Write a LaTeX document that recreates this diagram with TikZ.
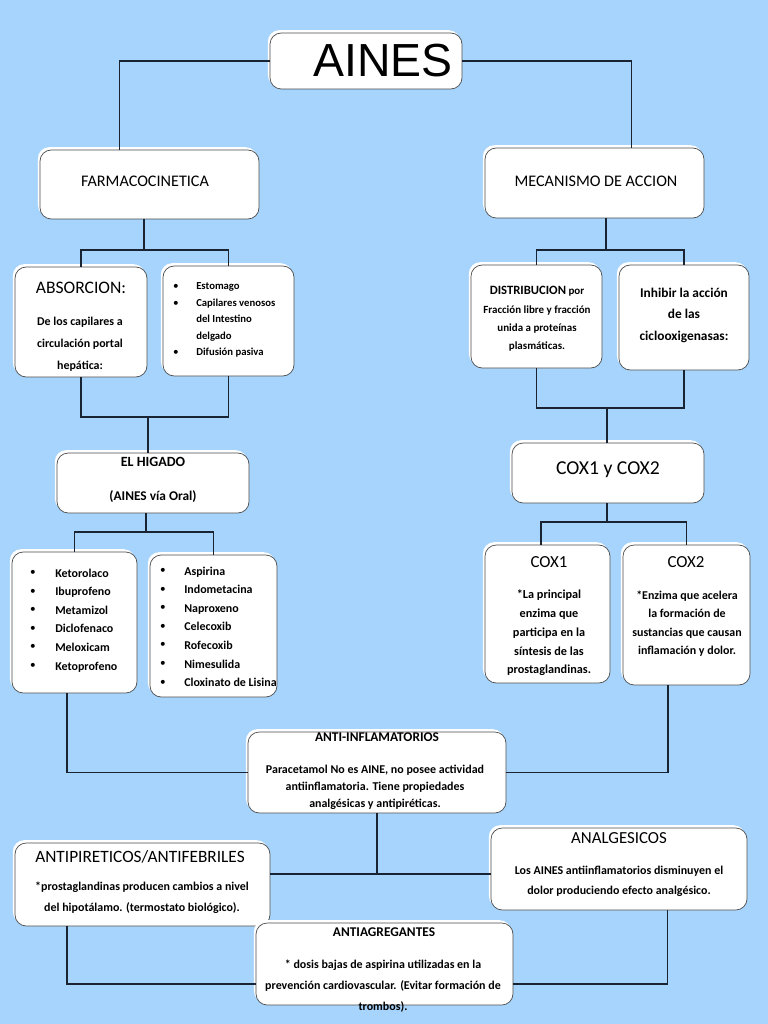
\documentclass[tikz,border=0pt]{standalone}
\usepackage{fontspec}
\setmainfont{Carlito}
\newfontfamily\arial{Liberation Sans}
\usetikzlibrary{fit,shadows}
\definecolor{fondo}{RGB}{166,212,252}
\definecolor{linea}{RGB}{25,35,50}

\begin{document}
\begin{tikzpicture}[x=0.025cm, y=-0.025cm,
  caja/.style={draw=black!70, line width=0.5pt, fill=white, rounded corners=8pt, inner sep=0pt,
    drop shadow={shadow xshift=-1.5pt, shadow yshift=2pt, fill=white, opacity=1}},
  titulo/.style={inner sep=0pt, align=center, font=\fontsize{12}{14}\selectfont},
  negrita/.style={inner sep=0pt, align=center, font=\fontsize{9.5}{12}\selectfont\bfseries},
  cuerpo/.style={inner sep=0pt, align=center, font=\fontsize{8.5}{#1}\selectfont\bfseries},
  item/.style={inner sep=0pt, anchor=west, text height=1.6ex, text depth=0.4ex,
    font=\fontsize{8.5}{10}\selectfont\bfseries},
  bala/.style={inner sep=0pt, font=\fontsize{8}{10}\selectfont},
  enlace/.style={draw=linea, line width=0.9pt}]

\fill[fondo] (0,0) rectangle (768,1024);

% cajas
\node[caja, fit={(270,33) (462,89)}] (aines) {};
\node[caja, fit={(40,150) (259,219)}] (farma) {};
\node[caja, fit={(485,148) (704,218)}] (meca) {};
\node[caja, fit={(15,267) (147,377)}] (abs) {};
\node[caja, fit={(163,266) (294,376)}] (est) {};
\node[caja, fit={(57,453) (249,513)}] (hig) {};
\node[caja, fit={(12,552) (137,693)}] (l1) {};
\node[caja, fit={(150,555) (277,697)}] (l2) {};
\node[caja, fit={(471,265) (602,368)}] (dist) {};
\node[caja, fit={(619,265) (749,370)}] (inh) {};
\node[caja, fit={(512,443) (704,503)}] (cxy) {};
\node[caja, fit={(485,545) (610,683)}] (cx1) {};
\node[caja, fit={(623,545) (750,685)}] (cx2) {};
\node[caja, fit={(248,732) (506,813)}] (anti) {};
\node[caja, fit={(15,843) (270,926)}] (antip) {};
\node[caja, fit={(491,828) (747,910)}] (anal) {};
\node[caja, fit={(256,923) (513,1005)}] (antiag) {};

% textos
\node[inner sep=0pt, font=\arial\fontsize{33}{36}\selectfont] (aines-t) at (383,61) {AINES};
\node[titulo, font=\fontsize{11.5}{14}\selectfont] (farma-t) at (145,181) {FARMACOCINETICA};
\node[titulo, font=\fontsize{11.5}{14}\selectfont] (meca-t) at (596,181) {MECANISMO DE ACCION};

\node[titulo, font=\fontsize{12.5}{14}\selectfont] (abs-t) at (81,288) {ABSORCION:};
\node[cuerpo=15.6, font=\fontsize{8.5}{15.6}\selectfont\bfseries] (abs-c) at (80,344)
  {De los capilares a\\circulación portal\\hepática:};

\node[inner sep=0pt, align=left, anchor=west, font=\fontsize{7.6}{11.7}\selectfont\bfseries] (est-t) at (196,320)
  {Estomago\\Capilares venosos\\del Intestino\\delgado\\Difusión pasiva};
\foreach \y [count=\i] in {287,304,353}
  \node[bala] (be-\i) at (176,\y) {\textbullet};

\node[negrita, font=\fontsize{10}{12}\selectfont\bfseries] (hig-t) at (153,462) {EL HIGADO};
\node[negrita] (hig-c) at (153,497) {(AINES vía Oral)};

\foreach \f [count=\i] in {Ketorolaco,Ibuprofeno,Metamizol,Diclofenaco,Meloxicam,Ketoprofeno}{
  \node[bala] (b1-\i) at (33,554.4+18.6*\i) {\textbullet};
  \node[item] (i1-\i) at (55,554.4+18.6*\i) {\f};
}
\foreach \f [count=\i] in {Aspirina,Indometacina,Naproxeno,Celecoxib,Rofecoxib,Nimesulida,Cloxinato de Lisina}{
  \node[bala] (b2-\i) at (163,552.4+18.6*\i) {\textbullet};
  \node[item] (i2-\i) at (184,552.4+18.6*\i) {\f};
}

\node[cuerpo=13, font=\fontsize{7.8}{13}\selectfont\bfseries] (dist-t) at (537,319)
  {{\fontsize{9}{13}\selectfont DISTRIBUCION} por\\Fracción libre y fracción\\unida a proteínas\\plasmáticas.};
\node[negrita, font=\fontsize{9.5}{15.3}\selectfont\bfseries] (inh-t) at (684,315)
  {Inhibir la acción\\de las\\ciclooxigenasas:};

\node[titulo, font=\fontsize{14}{16}\selectfont] (cxy-t) at (608,470) {COX1 y COX2};
\node[titulo] (cx1-t) at (549,562) {COX1};
\node[cuerpo=13.3, font=\fontsize{8.7}{13.3}\selectfont\bfseries] (cx1-c) at (549,633)
  {*La principal\\enzima que\\participa en la\\síntesis de las\\prostaglandinas.};
\node[titulo] (cx2-t) at (686,562) {COX2};
\node[cuerpo=13.1, font=\fontsize{8.5}{13.1}\selectfont\bfseries] (cx2-c) at (687,623.5)
  {*Enzima que acelera\\la formación de\\sustancias que causan\\inflamación y dolor.};

\node[negrita] (anti-t) at (377,737) {ANTI-INFLAMATORIOS};
\node[cuerpo=12] (anti-c) at (375,787)
  {Paracetamol No es AINE, no posee actividad\\antiinflamatoria. Tiene propiedades\\analgésicas y antipiréticas.};

\node[titulo, font=\fontsize{12.3}{14}\selectfont] (antip-t) at (140,857) {ANTIPIRETICOS/ANTIFEBRILES};
\node[cuerpo=15] (antip-c) at (142,897.5)
  {*prostaglandinas producen cambios a nivel\\del hipotálamo. (termostato biológico).};

\node[titulo] (anal-t) at (619,838) {ANALGESICOS};
\node[cuerpo=14.2] (anal-c) at (619,881)
  {Los AINES antiinflamatorios disminuyen el\\dolor produciendo efecto analgésico.};

\node[negrita] (antiag-t) at (384,932) {ANTIAGREGANTES};
\node[cuerpo=15] (antiag-c) at (383,986)
  {* dosis bajas de aspirina utilizadas en la\\prevención cardiovascular. (Evitar formación de\\trombos).};

% enlaces
\coordinate (fbar) at (144,250);
\coordinate (hbar) at (148,417);
\coordinate (lbar) at (146,532);
\coordinate (mbar) at (606,250);
\coordinate (cbar) at (607,408);
\coordinate (xbar) at (607,522);
\coordinate (abar) at (377,874);

\begin{scope}[enlace]
\draw (aines.west) -| ([xshift=2cm]farma.north west);
\draw (aines.east) -| ([xshift=3.675cm]meca.north west);

\draw (farma.south -| fbar) -- (fbar);
\draw (abs.north) |- (fbar) -| (est.north);
\draw (abs.south) |- (hbar) -| (est.south);
\draw (hbar) -- (hbar |- hig.north);
\draw (hig.south -| lbar) -- (lbar);
\draw (l1.north) |- (lbar) -| (l2.north);
\draw ([xshift=-0.19cm]l1.south) |- (anti.west);

\draw (meca.south -| mbar) -- (mbar);
\draw (dist.north) |- (mbar) -| (inh.north);
\draw (dist.south) |- (cbar) -| (inh.south);
\draw (cbar) -- (cbar |- cxy.north);
\draw (cxy.south -| xbar) -- (xbar);
\draw ([xshift=-0.16cm]cx1.north) |- (xbar) -| (cx2.north);
\draw ([xshift=-0.46cm]cx2.south) |- (anti.east);

\draw (anti.south) -- (abar);
\draw (antip.east |- abar) -- (anal.west |- abar);
\draw ([xshift=-1.89cm]antip.south) |- ([yshift=-0.5cm]antiag.west);
\draw ([xshift=1.22cm]anal.south) |- ([yshift=-0.5cm]antiag.east);
\end{scope}

\end{tikzpicture}
\end{document}
